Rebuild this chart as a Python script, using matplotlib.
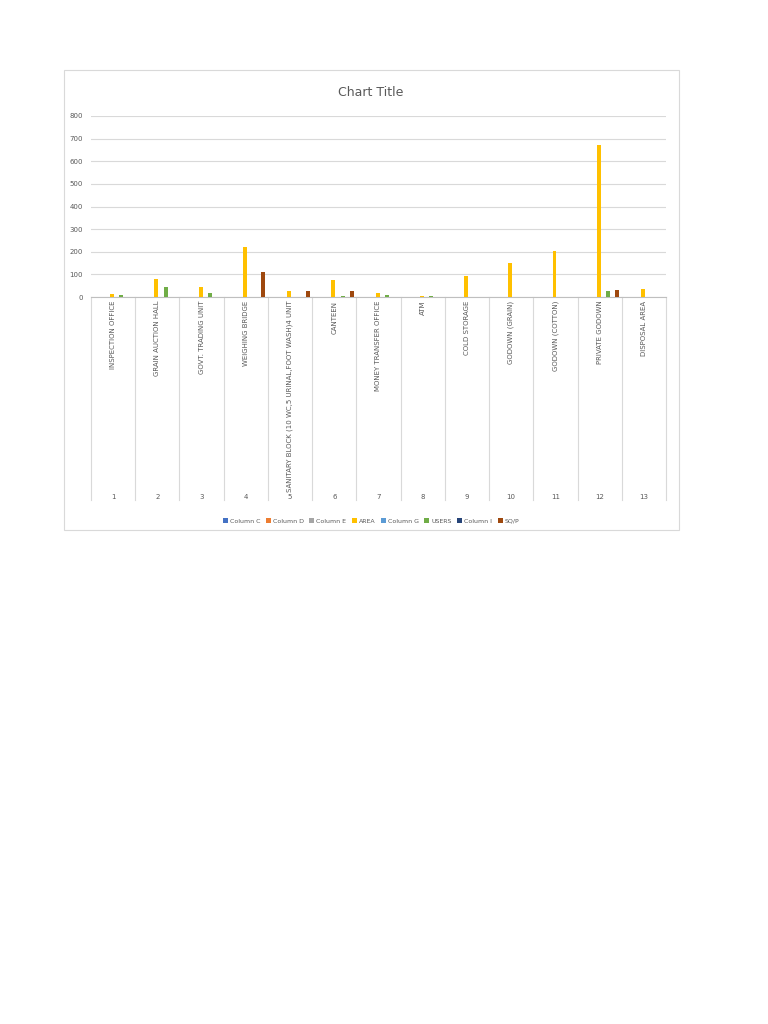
import numpy as np
import matplotlib.pyplot as plt
from matplotlib.patches import Rectangle
from matplotlib.lines import Line2D

# data
labels = ["INSPECTION OFFICE", "GRAIN AUCTION HALL", "GOVT. TRADING UNIT",
          "WEIGHING BRIDGE", "SANITARY BLOCK (10 WC,5 URINAL,FOOT WASH)4 UNIT",
          "CANTEEN", "MONEY TRANSFER OFFICE", "ATM", "COLD STORAGE",
          "GODOWN (GRAIN)", "GODOWN (COTTON)", "PRIVATE GODOWN", "DISPOSAL AREA"]
numbers = ["1", "2", "3", "4", "5", "6", "7", "8", "9", "10", "11", "12", "13"]

col_c = [0, 0, 0, 0, 0, 0, 0, 0, 0, 0, 0, 0, 0]
col_d = [0, 0, 0, 0, 0, 0, 0, 0, 0, 0, 0, 0, 0]
col_e = [0, 0, 0, 0, 0, 0, 0, 0, 0, 0, 0, 0, 0]
area = [15, 80, 43, 221, 25, 75, 19, 5, 93, 152, 202, 672, 34]
col_g = [0, 0, 0, 0, 0, 0, 0, 0, 0, 0, 0, 0, 0]
users = [9, 43, 19, 2, 0, 5, 9, 5, 0, 0, 0, 25, 0]
col_i = [0, 0, 0, 0, 0, 0, 0, 0, 0, 0, 0, 0, 0]
sqp = [2, 2, 2, 112, 25, 25, 2, 2, 0, 0, 0, 31, 0]

series = [("Column C", col_c, "#4472C4"), ("Column D", col_d, "#ED7D31"),
          ("Column E", col_e, "#A5A5A5"), ("AREA", area, "#FFC000"),
          ("Column G", col_g, "#5B9BD5"), ("USERS", users, "#70AD47"),
          ("Column I", col_i, "#264478"), ("SQ/P", sqp, "#9E480E")]

W, H = 768, 1024
fig = plt.figure(figsize=(W / 100, H / 100), dpi=100)

# chart frame
fig.patches.append(Rectangle((64 / W, 1 - 530 / H), 615 / W, 460 / H,
                             transform=fig.transFigure, fill=False,
                             edgecolor="#d9d9d9", linewidth=0.8))
fig.text(371 / W, 1 - 92 / H, "Chart Title", ha="center", va="center",
         fontsize=9, color="#595959")

ax = fig.add_axes([91 / W, 1 - 297 / H, 575 / W, 181 / H])
x = np.arange(len(labels))
slot = 0.105
bw = 0.09
for i, (name, vals, c) in enumerate(series):
    ax.bar(x + (i - 3.2) * slot, vals, width=bw, color=c, label=name, zorder=3)

ax.set_xlim(-0.5, len(labels) - 0.5)
ax.set_ylim(0, 800)
ax.set_yticks(range(0, 801, 100))
ax.tick_params(axis="y", length=0, labelsize=5, labelcolor="#595959", pad=6)
ax.set_xticks([])
ax.grid(axis="y", color="#d9d9d9", linewidth=0.8, zorder=0)
for s in ["top", "right", "left"]:
    ax.spines[s].set_visible(False)
ax.spines["bottom"].set_color("#bfbfbf")
ax.spines["bottom"].set_linewidth(0.8)

# multi-level category axis
tr = ax.get_xaxis_transform()
for b in np.arange(-0.5, len(labels), 1.0):
    ax.add_line(Line2D([b, b], [0, -1.12], transform=tr, color="#d9d9d9",
                       linewidth=0.8, clip_on=False))
for xi, lab, num in zip(x, labels, numbers):
    ax.text(xi, -0.02, lab, transform=tr, rotation=90, ha="center", va="top",
            fontsize=5, color="#595959")
    ax.text(xi, -1.105, num, transform=tr, ha="center", va="center",
            fontsize=5, color="#595959")

fig.legend(loc="center", bbox_to_anchor=(371 / W, 1 - 521 / H), ncol=8,
           frameon=False, fontsize=4.5, handlelength=0.8, handleheight=0.8,
           handletextpad=0.3, columnspacing=0.9, labelcolor="#595959")

fig.savefig("out.png", dpi=100)
